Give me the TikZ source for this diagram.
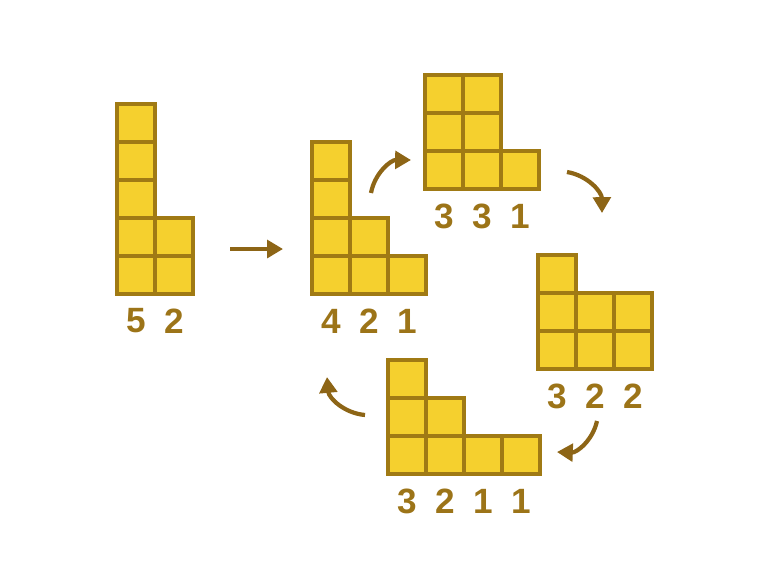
\documentclass[tikz,border=0pt]{standalone}
\usepackage{fontspec}
\setmainfont{Liberation Sans}
\usetikzlibrary{arrows.meta,positioning}
\definecolor{cellfill}{HTML}{F5D02E}
\definecolor{celledge}{HTML}{A07A14}
\definecolor{numcol}{HTML}{9C7418}
\definecolor{arrowcol}{HTML}{8D6516}
\tikzset{
  cell/.style={fill=cellfill,draw=celledge,line width=2.2pt},
  num/.style={text=numcol,font=\fontsize{20}{20}\selectfont\bfseries},
  arr/.style={draw=arrowcol,line width=2.4pt,-{Triangle[length=9pt,width=10pt]}}
}
\begin{document}
\begin{tikzpicture}[x=0.02cm,y=-0.02cm]
	\useasboundingbox (0,0) rectangle (768,576);
	% 5 2
	\foreach \h [count=\i from 0] in {5,2}{
		\foreach \j in {1,...,\h}
			\filldraw[cell] (117+38*\i,332-38*\j) rectangle ++(38,-38);
		\node[num] (a\i) at (136+38*\i,321) {\h};
	}
	% 4 2 1
	\foreach \h [count=\i from 0] in {4,2,1}{
		\foreach \j in {1,...,\h}
			\filldraw[cell] (312+38*\i,332-38*\j) rectangle ++(38,-38);
		\node[num] (b\i) at (331+38*\i,321) {\h};
	}
	% 3 3 1
	\foreach \h [count=\i from 0] in {3,3,1}{
		\foreach \j in {1,...,\h}
			\filldraw[cell] (425+38*\i,227-38*\j) rectangle ++(38,-38);
		\node[num] (c\i) at (444+38*\i,216) {\h};
	}
	% 3 2 2
	\foreach \h [count=\i from 0] in {3,2,2}{
		\foreach \j in {1,...,\h}
			\filldraw[cell] (538+38*\i,407-38*\j) rectangle ++(38,-38);
		\node[num] (d\i) at (557+38*\i,396) {\h};
	}
	% 3 2 1 1
	\foreach \h [count=\i from 0] in {3,2,1,1}{
		\foreach \j in {1,...,\h}
			\filldraw[cell] (388+38*\i,512-38*\j) rectangle ++(38,-38);
		\node[num] (e\i) at (407+38*\i,501) {\h};
	}
	% arrows
	\coordinate (ab1) at (230,249); \coordinate (ab2) at (283,249);
	\coordinate (bc1) at (371,193); \coordinate (bc2) at (411,160);
	\coordinate (cd1) at (567,172); \coordinate (cd2) at (602,213);
	\coordinate (de1) at (597,421); \coordinate (de2) at (557,452);
	\coordinate (eb1) at (365,415); \coordinate (eb2) at (327,377);
	\draw[arr] (ab1) -- (ab2);
	\draw[arr] (bc1) to[bend left=40] (bc2);
	\draw[arr] (cd1) to[bend left=40] (cd2);
	\draw[arr] (de1) to[bend left=40] (de2);
	\draw[arr] (eb1) to[bend left=40] (eb2);
\end{tikzpicture}
\end{document}
